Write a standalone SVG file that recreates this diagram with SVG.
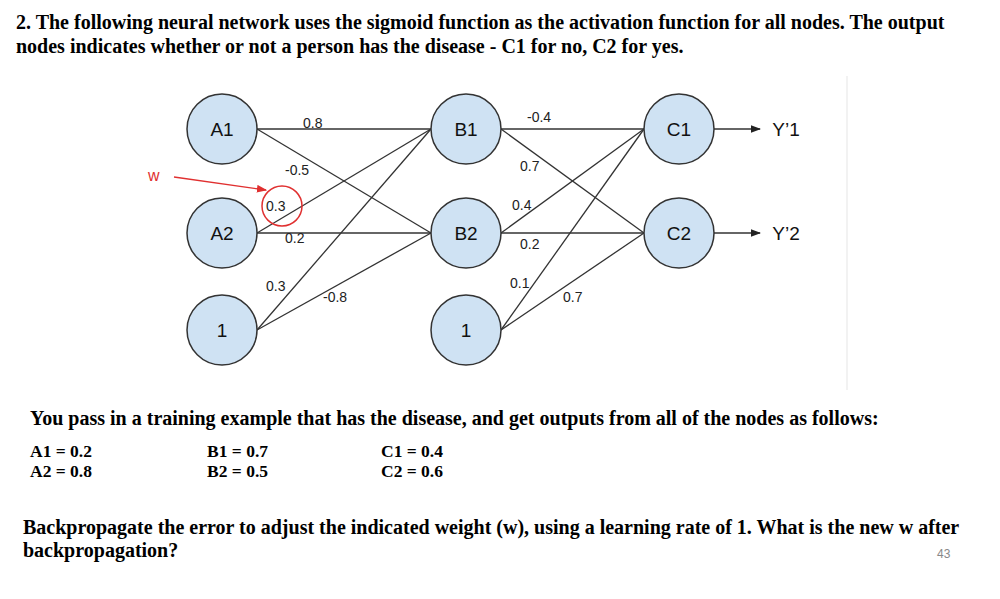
<svg xmlns="http://www.w3.org/2000/svg" width="1000" height="599" viewBox="0 0 1000 599">
<style>
.t{font-family:"Liberation Serif",serif;font-weight:bold;font-size:20px;fill:#000}
.v{font-family:"Liberation Serif",serif;font-weight:bold;font-size:17.5px;fill:#000}
.n circle{fill:#cfe2f3;stroke:#333;stroke-width:1.5}
.n text{font-family:"Liberation Sans",Arial,sans-serif;font-size:19px;fill:#111;text-anchor:middle}
.e line{stroke:#333;stroke-width:1.3}
.l{font-family:"Liberation Sans",Arial,sans-serif;font-size:14px;fill:#222}
</style>
<defs>
<marker id="ah" markerWidth="8" markerHeight="6" refX="7" refY="3" orient="auto"><path d="M0,0L8,3L0,6z" fill="#222"/></marker>
<marker id="rh" markerWidth="8" markerHeight="6" refX="7" refY="3" orient="auto"><path d="M0,0L8,3L0,6z" fill="#e03030"/></marker>
</defs>
<rect width="1000" height="599" fill="#fff"/>
<text class="t" x="16" y="29">2. The following neural network uses the sigmoid function as the activation function for all nodes. The output</text>
<text class="t" x="16" y="53">nodes indicates whether or not a person has the disease - C1 for no, C2 for yes.</text>
<line x1="847" y1="76" x2="847" y2="390" stroke="#eee" stroke-width="1.5"/>
<g class="e">
<line x1="257" y1="129" x2="431" y2="129"/>
<line x1="257" y1="129" x2="431" y2="233"/>
<line x1="257" y1="233" x2="431" y2="129"/>
<line x1="257" y1="233" x2="431" y2="233"/>
<line x1="257" y1="330" x2="431" y2="129"/>
<line x1="257" y1="330" x2="431" y2="233"/>
<line x1="501" y1="129" x2="644" y2="129"/>
<line x1="501" y1="129" x2="644" y2="233"/>
<line x1="501" y1="233" x2="644" y2="129"/>
<line x1="501" y1="233" x2="644" y2="233"/>
<line x1="501" y1="330" x2="644" y2="129"/>
<line x1="501" y1="330" x2="644" y2="233"/>
<line x1="714" y1="129" x2="760" y2="129" marker-end="url(#ah)"/>
<line x1="714" y1="233" x2="760" y2="233" marker-end="url(#ah)"/>
<line x1="174" y1="177" x2="266" y2="190" style="stroke:#e03030" marker-end="url(#rh)"/>
</g>
<circle cx="282" cy="206" r="20" fill="none" stroke="#e03030" stroke-width="1.5"/>
<g class="l">
<text x="303" y="128">0.8</text>
<text x="285" y="175">-0.5</text>
<text x="266" y="211">0.3</text>
<text x="285" y="243">0.2</text>
<text x="266" y="291">0.3</text>
<text x="323" y="302">-0.8</text>
<text x="527" y="122">-0.4</text>
<text x="520" y="171">0.7</text>
<text x="512" y="210">0.4</text>
<text x="520" y="249">0.2</text>
<text x="510" y="288">0.1</text>
<text x="563" y="302">0.7</text>
</g>
<text x="148" y="181" font-family="Liberation Sans,Arial,sans-serif" font-size="16" fill="#e03030">w</text>
<g id="A1" class="n"><circle cx="222" cy="129" r="35"/><text x="222" y="136">A1</text></g>
<g id="A2" class="n"><circle cx="222" cy="233" r="35"/><text x="222" y="240">A2</text></g>
<g id="A3" class="n"><circle cx="222" cy="330" r="35"/><text x="222" y="337">1</text></g>
<g id="B1" class="n"><circle cx="466" cy="129" r="35"/><text x="466" y="136">B1</text></g>
<g id="B2" class="n"><circle cx="466" cy="233" r="35"/><text x="466" y="240">B2</text></g>
<g id="B3" class="n"><circle cx="466" cy="330" r="35"/><text x="466" y="337">1</text></g>
<g id="C1" class="n"><circle cx="679" cy="129" r="35"/><text x="679" y="136">C1</text></g>
<g id="C2" class="n"><circle cx="679" cy="233" r="35"/><text x="679" y="240">C2</text></g>
<g id="Y1" class="n"><text x="786" y="136">Y’1</text></g>
<g id="Y2" class="n"><text x="786" y="240">Y’2</text></g>
<text class="t" x="30" y="425">You pass in a training example that has the disease, and get outputs from all of the nodes as follows:</text>
<text class="v" x="30" y="457">A1 = 0.2</text>
<text class="v" x="30" y="477">A2 = 0.8</text>
<text class="v" x="207" y="457">B1 = 0.7</text>
<text class="v" x="207" y="477">B2 = 0.5</text>
<text class="v" x="381" y="457">C1 = 0.4</text>
<text class="v" x="381" y="477">C2 = 0.6</text>
<text class="t" x="23" y="534">Backpropagate the error to adjust the indicated weight (w), using a learning rate of 1. What is the new w after</text>
<text class="t" x="23" y="557">backpropagation?</text>
<text x="937" y="558" font-family="Liberation Sans,Arial,sans-serif" font-size="12" fill="#888">43</text>
</svg>
